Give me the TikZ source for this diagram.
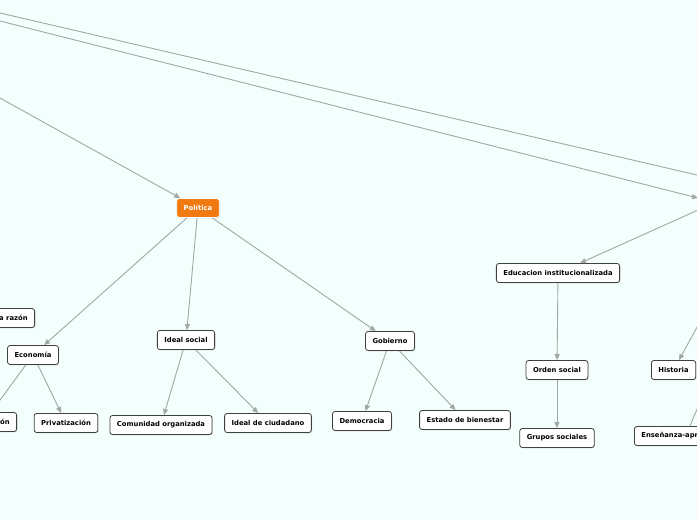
\documentclass[tikz,border=0pt]{standalone}
\usepackage{fontspec}
\setmainfont{DejaVu Sans}
\usetikzlibrary{shadows,arrows.meta}
\definecolor{bg}{HTML}{F2FFFC}
\definecolor{org}{HTML}{F07A10}
\definecolor{ln}{HTML}{A3A6A6}
\begin{document}
\begin{tikzpicture}[x=1pt,y=-1pt,
  box/.style={draw=black!75,fill=white,rounded corners=2.5pt,line width=0.8pt,font=\fontsize{6.8}{8}\selectfont\bfseries,inner xsep=7pt,minimum height=19pt,drop shadow={opacity=0.25,shadow xshift=0.8pt,shadow yshift=-0.8pt}},
  main/.style={box,draw=white,fill=org,text=white},
  con/.style={draw=ln,line width=0.9pt,-{Triangle[length=6pt,width=5pt]}},
  plain/.style={draw=ln,line width=0.9pt}]
\useasboundingbox[fill=bg] (0,0) rectangle (697,520);
\node[main] (pol) at (198,208) {Política};
\node[box,anchor=east] (raz) at (35,318) {de la razón};
\node[box] (eco) at (33,355) {Economía};
\node[box,anchor=east] (glo) at (17,422) {Globalización};
\node[box] (pri) at (66,423) {Privatización};
\node[box] (ids) at (186,340) {Ideal social};
\node[box] (com) at (161,425) {Comunidad organizada};
\node[box] (idc) at (268,423) {Ideal de ciudadano};
\node[box] (gob) at (390,341) {Gobierno};
\node[box] (dem) at (362,421) {Democracia};
\node[box] (est) at (465,420) {Estado de bienestar};
\node[box] (edu) at (558,273) {Educacion institucionalizada};
\node[box] (ord) at (557,370) {Orden social};
\node[box] (gru) at (557,438) {Grupos sociales};
\node[box,anchor=west] (his) at (651,370) {Historia};
\node[box,anchor=west] (ens) at (634,436) {Enseñanza-aprendizaje};
\node[box,anchor=west,minimum height=22pt] (rn) at (698,198) {Educación};
\coordinate (a1) at (0,13);
\coordinate (a2) at (0,21);
\coordinate (a3) at (0,98);
\coordinate (r1) at (710,178);
\coordinate (r3) at (712,300);
\coordinate (r4) at (703,395);
\draw[plain] (a1) -- (r1);
\draw[con] (a2) -- (rn.west);
\draw[con] (a3) -- (pol);
\draw[con] (rn) -- (edu);
\draw[con] (r3) -- (his);
\draw[plain] (r4) -- (ens);
\draw[con] (pol) -- (eco);
\draw[con] (pol) -- (ids);
\draw[con] (pol) -- (gob);
\draw[con] (eco) -- (glo);
\draw[con] (eco) -- (pri);
\draw[con] (ids) -- (com);
\draw[con] (ids) -- (idc);
\draw[con] (gob) -- (dem);
\draw[con] (gob) -- (est);
\draw[con] (edu) -- (ord);
\draw[con] (ord) -- (gru);
\end{tikzpicture}
\end{document}
